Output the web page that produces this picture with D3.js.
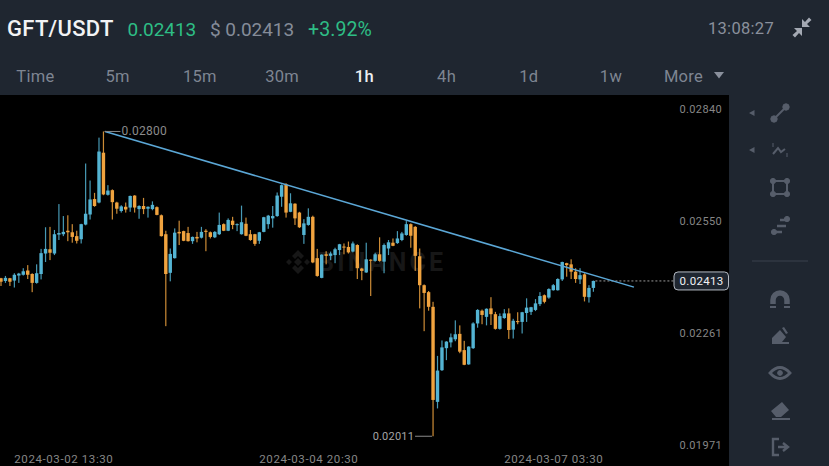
<!DOCTYPE html>
<html>
<head>
<meta charset="utf-8">
<style>
  html, body { margin: 0; padding: 0; background: #000; overflow: hidden; }
  svg { display: block; font-family: Roboto, sans-serif; }
</style>
</head>
<body>
<script src="https://cdn.jsdelivr.net/npm/d3@7"></script>
<script>
// prices are in units of 0.00001 USDT, one entry per hourly candle
const opens = [
  2420,2413,2420,2414,2427,2429,2440,2431,2408,2431,
  2484,2495,2484,2533,2534,2543,2539,2529,2521,2559,
  2585,2625,2616,2745,2636,2648,2616,2594,2605,2603,
  2634,2599,2607,2600,2599,2604,2583,2534,2434,2472,
  2540,2542,2537,2516,2527,2525,2543,2539,2526,2534,
  2560,2543,2569,2558,2534,2561,2534,2534,2517,2540,
  2560,2575,2581,2631,2663,2592,2613,2590,2532,2558,
  2579,2472,2421,2482,2478,2480,2493,2502,2501,2489,
  2506,2445,2435,2468,2465,2482,2463,2497,2512,2511,
  2519,2532,2560,2553,2477,2402,2384,2346,2100,2182,
  2239,2254,2262,2276,2234,2197,2239,2303,2336,2320,
  2342,2327,2289,2317,2329,2287,2309,2307,2330,2333,
  2338,2353,2376,2370,2389,2389,2417,2459,2456,2437,
  2417,2430,2371,2395];
const highs = [
  2421,2426,2421,2433,2434,2446,2454,2433,2456,2496,
  2552,2553,2545,2612,2581,2583,2560,2543,2561,2717,
  2673,2641,2784,2800,2661,2650,2618,2609,2616,2634,
  2635,2609,2628,2606,2619,2606,2585,2543,2497,2549,
  2569,2543,2553,2528,2540,2553,2547,2541,2542,2590,
  2562,2575,2579,2562,2608,2577,2545,2535,2540,2579,
  2584,2607,2642,2663,2666,2640,2614,2592,2573,2601,
  2582,2496,2482,2490,2489,2499,2509,2510,2515,2515,
  2508,2447,2512,2469,2486,2526,2510,2519,2523,2542,
  2540,2568,2562,2555,2497,2404,2387,2359,2219,2259,
  2257,2277,2311,2298,2258,2244,2306,2340,2339,2342,
  2371,2333,2329,2340,2342,2315,2332,2333,2368,2346,
  2366,2384,2378,2394,2405,2420,2463,2460,2469,2446,
  2446,2433,2402,2414];
const lows = [
  2400,2408,2400,2396,2408,2427,2418,2384,2406,2417,
  2462,2467,2480,2519,2529,2516,2512,2510,2510,2557,
  2572,2605,2614,2635,2634,2572,2587,2590,2590,2592,
  2590,2574,2586,2577,2596,2583,2528,2296,2412,2471,
  2506,2516,2515,2509,2513,2523,2490,2523,2524,2532,
  2542,2542,2547,2542,2533,2529,2517,2504,2509,2539,
  2548,2551,2579,2605,2577,2591,2558,2550,2509,2556,
  2459,2424,2420,2456,2467,2459,2480,2482,2484,2487,
  2418,2415,2434,2374,2463,2463,2433,2480,2503,2509,
  2516,2530,2499,2439,2342,2283,2336,2011,2083,2180,
  2208,2241,2257,2226,2195,2196,2237,2292,2301,2298,
  2299,2287,2287,2315,2263,2264,2301,2277,2307,2325,
  2335,2348,2355,2367,2388,2388,2413,2424,2418,2408,
  2405,2360,2357,2385];
const closes = [
  2411,2421,2411,2429,2432,2438,2429,2408,2433,2485,
  2496,2486,2534,2537,2540,2539,2527,2517,2560,2587,
  2624,2607,2748,2637,2647,2617,2600,2606,2598,2633,
  2603,2607,2599,2605,2610,2584,2529,2431,2483,2538,
  2536,2517,2516,2527,2523,2540,2540,2527,2540,2558,
  2543,2571,2558,2560,2565,2530,2519,2509,2539,2578,
  2582,2581,2634,2661,2590,2614,2575,2552,2562,2579,
  2461,2426,2481,2478,2484,2495,2508,2500,2487,2510,
  2446,2439,2469,2466,2482,2465,2506,2513,2504,2523,
  2536,2560,2530,2478,2402,2382,2346,2105,2181,2241,
  2256,2267,2275,2230,2196,2243,2303,2338,2325,2341,
  2327,2289,2322,2329,2286,2310,2307,2332,2344,2345,
  2355,2374,2359,2392,2402,2418,2462,2454,2437,2418,
  2428,2372,2395,2413];

const priceTicks = [2840, 2550, 2261, 1971];
const timeTickIndex = [14, 69, 124];
const timeTickLabels = ["2024-03-02 13:30", "2024-03-04 20:30", "2024-03-07 03:30"];
const intervals = ["Time", "5m", "15m", "30m", "1h", "4h", "1d", "1w"];
const activeInterval = "1h";
const lastPrice = 2413;
const maxMark = { index: 23, price: 2800 };
const minMark = { index: 97, price: 2011 };
const trendIndex = [23.35, 142.1];
const trendPrice = [2800, 2397];

const width = 829, height = 466;
const chartTop = 95, chartRight = 729;
const panelColor = "#1f2630";
const upColor = "#54b4d3", downColor = "#f0a33f";

const fmt = p => (p / 1e5).toFixed(5);

const x = d3.scaleLinear().domain([0, 133]).range([1, 593.4]);
const y = d3.scaleLinear().domain([2840, 1971]).range([116, 451.7]);

const svg = d3.select("body").append("svg")
    .attr("width", width)
    .attr("height", height)
    .attr("viewBox", `0 0 ${width} ${height}`);

svg.append("rect").attr("width", width).attr("height", height).attr("fill", panelColor);
svg.append("rect").attr("y", chartTop).attr("width", chartRight).attr("height", height - chartTop).attr("fill", "#000");

// header
const headerText = [
  ["GFT/USDT", 7, 22, "#f2f3f5", 500, 0.3],
  ["0.02413", 127.5, 19, "#2ebd85", 400, -0.05],
  ["$ 0.02413", 210, 19, "#858c99", 400, -0.05],
  ["+3.92%", 308, 19.5, "#2ebd85", 400, 0.1]
];
svg.append("g").selectAll("text").data(headerText).join("text")
    .attr("x", d => d[1])
    .attr("y", 36)
    .attr("font-size", d => d[2])
    .attr("fill", d => d[3])
    .attr("font-weight", d => d[4])
    .attr("letter-spacing", d => d[5])
    .text(d => d[0]);

svg.append("text")
    .attr("x", 774).attr("y", 34)
    .attr("text-anchor", "end")
    .attr("font-size", 16.5)
    .attr("letter-spacing", 0.3)
    .attr("fill", "#8a909c")
    .text("13:08:27");

// collapse icon
svg.append("path")
    .attr("fill", "#a4a9b3")
    .attr("d", "M811.5 20 L809 17.5 L805 22 L802 19 V27 H810 L807 24 Z M792.5 35 L795 37.5 L799 33 L802 36 V28 H794 L797 31 Z");

// interval tabs
const tabX = d3.scalePoint().domain(intervals).range([35.5, 611]);
svg.append("g").selectAll("text").data(intervals).join("text")
    .attr("x", d => tabX(d))
    .attr("y", 82)
    .attr("text-anchor", "middle")
    .attr("font-size", 16.5)
    .attr("letter-spacing", 0.3)
    .attr("font-weight", d => d === activeInterval ? 500 : 400)
    .attr("fill", d => d === activeInterval ? "#eceef1" : "#7e8592")
    .text(d => d);
svg.append("text")
    .attr("x", 683.5).attr("y", 82)
    .attr("text-anchor", "middle")
    .attr("font-size", 16.5)
    .attr("letter-spacing", 0.3)
    .attr("fill", "#7e8592")
    .text("More");
svg.append("path").attr("fill", "#8a909c").attr("d", "M714 72 L724 72 L719 78.5 Z");

// watermark
const mark = svg.append("g").attr("fill", "#171717");
mark.append("path").attr("d", "M298 250 L304 256 L301 259 L298 256 L295 259 L292 256 Z M298 274 L304 268 L301 265 L298 268 L295 265 L292 268 Z M286 262 L289 259 L292 262 L289 265 Z M310 262 L307 259 L304 262 L307 265 Z M298 258 L302 262 L298 266 L294 262 Z");
mark.append("text")
    .attr("x", 318).attr("y", 271)
    .attr("font-size", 25)
    .attr("font-weight", 700)
    .attr("letter-spacing", 3.2)
    .text("BINANCE");

// candles
const candles = d3.range(opens.length);
const candle = svg.append("g").selectAll("g").data(candles).join("g")
    .attr("fill", i => closes[i] >= opens[i] ? upColor : downColor);

candle.append("rect")
    .attr("x", i => x(i) - 0.6)
    .attr("width", 1.2)
    .attr("y", i => y(highs[i]))
    .attr("height", i => y(lows[i]) - y(highs[i]))
    .attr("opacity", 0.85);

candle.append("rect")
    .attr("x", i => x(i) - 1.7)
    .attr("width", 3.4)
    .attr("y", i => y(Math.max(opens[i], closes[i])))
    .attr("height", i => Math.max(1, Math.abs(y(opens[i]) - y(closes[i]))));

// last price line, drawn under the trend line
svg.append("line")
    .attr("x1", x(opens.length - 1) + 2).attr("x2", 674)
    .attr("y1", y(lastPrice)).attr("y2", y(lastPrice))
    .attr("stroke", "#9a9a9a")
    .attr("stroke-dasharray", "2 2");

// trend line
svg.append("line")
    .attr("x1", x(trendIndex[0])).attr("x2", x(trendIndex[1]))
    .attr("y1", y(trendPrice[0])).attr("y2", y(trendPrice[1]))
    .attr("stroke", "#5ba7d6")
    .attr("stroke-width", 1.5);

// high / low labels
const markColor = "#8b8b8b";
svg.append("line")
    .attr("x1", x(maxMark.index) + 1).attr("x2", x(maxMark.index) + 17)
    .attr("y1", y(maxMark.price)).attr("y2", y(maxMark.price))
    .attr("stroke", markColor);
svg.append("text")
    .attr("x", x(maxMark.index) + 18).attr("y", y(maxMark.price) + 4)
    .attr("font-size", 12).attr("letter-spacing", 0.3)
    .attr("fill", markColor)
    .text(fmt(maxMark.price));
svg.append("line")
    .attr("x1", x(minMark.index) - 18).attr("x2", x(minMark.index) - 1)
    .attr("y1", y(minMark.price)).attr("y2", y(minMark.price))
    .attr("stroke", markColor);
svg.append("text")
    .attr("x", x(minMark.index) - 19).attr("y", y(minMark.price) + 4)
    .attr("text-anchor", "end")
    .attr("font-size", 11).attr("letter-spacing", 0.2)
    .attr("fill", "#a5a5a5")
    .text(fmt(minMark.price));

// axes
const priceAxis = svg.append("g")
    .attr("transform", "translate(722,0)")
    .call(d3.axisLeft(y).tickValues(priceTicks).tickFormat(fmt).tickSize(0).tickPadding(0));
priceAxis.select(".domain").remove();
priceAxis.selectAll("text")
    .attr("y", -7)
    .attr("font-family", "Roboto, sans-serif")
    .attr("font-size", 11)
    .attr("letter-spacing", 0.35)
    .attr("fill", "#868686");

const timeAxis = svg.append("g")
    .attr("transform", "translate(0,455)")
    .call(d3.axisBottom(x).tickValues(timeTickIndex)
      .tickFormat((d, i) => timeTickLabels[i]).tickSize(0).tickPadding(0));
timeAxis.select(".domain").remove();
timeAxis.selectAll("text")
    .attr("font-family", "Roboto, sans-serif")
    .attr("font-size", 11.5)
    .attr("letter-spacing", 0.6)
    .attr("fill", "#868686");

// last price box
svg.append("rect")
    .attr("x", 674).attr("y", y(lastPrice) - 9)
    .attr("width", 54.5).attr("height", 18).attr("rx", 4)
    .attr("fill", panelColor)
    .attr("stroke", "#b5bac2");
svg.append("text")
    .attr("x", 701.5).attr("y", y(lastPrice) + 4.5)
    .attr("text-anchor", "middle")
    .attr("font-size", 11.5).attr("letter-spacing", 0.3)
    .attr("fill", "#f0f1f3")
    .text(fmt(lastPrice));

// drawing toolbar
const tools = svg.append("g").attr("fill", "#565d6a").attr("stroke", "#565d6a");
const iconLine = tools.append("g");
iconLine.append("path").attr("fill", "none").attr("stroke-width", 2).attr("d", "M774 119 L786 107");
iconLine.append("circle").attr("cx", 774).attr("cy", 119).attr("r", 3.2);
iconLine.append("circle").attr("cx", 786).attr("cy", 107).attr("r", 3.2);
tools.append("path").attr("stroke", "none").attr("d", "M749 113 L754.5 110 L754.5 116 Z M749 150 L754.5 147 L754.5 153 Z");
tools.append("path").attr("fill", "none").attr("stroke-width", 2).attr("d", "M773 154 L778 148 L781 152 L785 149");
tools.append("path").attr("fill", "none").attr("stroke-width", 1).attr("d", "M773 143 V147 M787 153 V157");
tools.append("path").attr("fill", "none").attr("stroke-width", 2).attr("d", "M773 181 H787 V194 H773 Z");
tools.selectAll(".corner").data([[773, 181], [787, 181], [773, 194], [787, 194]]).join("circle")
    .attr("cx", d => d[0]).attr("cy", d => d[1]).attr("r", 2.6);
tools.append("path").attr("fill", "none").attr("stroke-width", 2.4).attr("d", "M775 232 H782 M777 226 H786 M780 220 H788");
tools.append("circle").attr("cx", 774).attr("cy", 232).attr("r", 2.6);
tools.append("circle").attr("cx", 787).attr("cy", 219).attr("r", 2.6);
tools.append("line").attr("x1", 752).attr("x2", 808).attr("y1", 261).attr("y2", 261).attr("stroke", "#3a414d");
tools.append("path").attr("fill", "none").attr("stroke-width", 5.5).attr("d", "M773 304 V300 A7 7 0 0 1 787 300 V304");
tools.append("path").attr("stroke", "none").attr("d", "M770 306 H776 V308 H770 Z M784 306 H790 V308 H784 Z");
tools.append("path").attr("stroke", "none").attr("d", "M772 342 L772 338 L780 330 L786 337 L782 342 Z M782 328 L784 327 L788 333 L786 334 Z M772 342 H789 V344 H772 Z");
tools.append("path").attr("fill", "none").attr("stroke-width", 2.8).attr("d", "M770 373 Q780 362 790 373 Q780 384 770 373 Z");
tools.append("circle").attr("cx", 780).attr("cy", 373).attr("r", 2.4);
tools.append("path").attr("stroke", "none").attr("d", "M771 411 L782 402 L789 410 L781 417 L776 417 Z M772 418 H790 V420 H772 Z");
tools.append("path").attr("fill", "none").attr("stroke-width", 2.4).attr("d", "M779 439 H773 V455 H779 M778 447 H787 M783 443 L788 447 L783 451");
</script>
</body>
</html>
